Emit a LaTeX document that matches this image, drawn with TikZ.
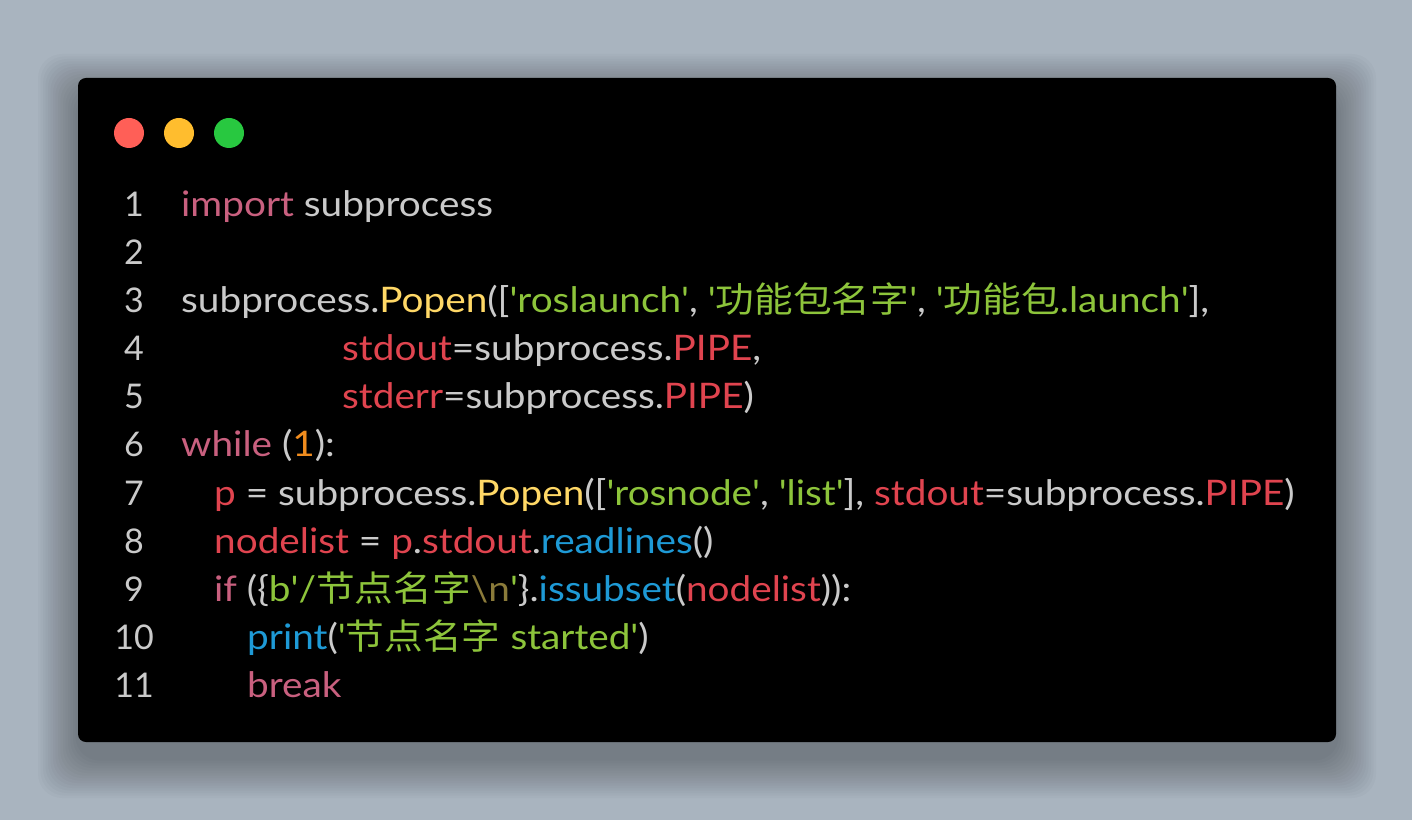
\documentclass[tikz,border=0pt]{standalone}
\usepackage{fontspec}
\usepackage{graphicx}
\newfontfamily\code{Lato}
\newfontfamily\cjk{Noto Sans CJK SC}
\definecolor{bg}{HTML}{A9B4BF}
\definecolor{pl}{HTML}{CACACA}
\definecolor{kwc}{HTML}{C9607F}
\definecolor{fnc}{HTML}{FFD866}
\definecolor{stc}{HTML}{8DC43B}
\definecolor{rdc}{HTML}{E0444F}
\definecolor{blc}{HTML}{1E9AD6}
\definecolor{orc}{HTML}{F08C1E}
\definecolor{esc}{HTML}{8B7B3A}
\definecolor{dred}{HTML}{FF5F57}
\definecolor{dyel}{HTML}{FFBD2E}
\definecolor{dgrn}{HTML}{28C840}
\newcommand{\kw}[1]{\textcolor{kwc}{#1}}
\newcommand{\fn}[1]{\textcolor{fnc}{#1}}
\newcommand{\st}[1]{\textcolor{stc}{#1}}
\newcommand{\rd}[1]{\textcolor{rdc}{#1}}
\newcommand{\bl}[1]{\textcolor{blc}{#1}}
\newcommand{\q}{\textquotesingle}
\newcommand{\wid}[1]{\scalebox{1.1}[1]{#1}}
\begin{document}
\begin{tikzpicture}[x=1pt,y=1pt,
  ln/.style={anchor=base,inner sep=0,text=pl,font=\code\fontsize{34}{34}\selectfont},
  cl/.style={anchor=base west,inner sep=0,text=pl,font=\code\fontsize{35.2}{35}\selectfont}]
\fill[bg] (0,0) rectangle (1412,820);
\useasboundingbox (0,0) rectangle (1412,820);
\foreach \i in {1,...,16}{
  \fill[black,opacity=0.02,rounded corners=24] (78-2.5*\i,78-2.5*\i-16) rectangle (1336+2.5*\i,742+2.5*\i-16);}
\fill[black,rounded corners=8] (78,78) rectangle (1336,742);
\fill[dred] (129,687) circle (15);
\fill[dyel] (179,687) circle (15);
\fill[dgrn] (229,687) circle (15);
\foreach \n in {1,...,11}{ \node[ln] (n\n) at (134,603-48*\n+48) {\n}; }
\node[cl] (l1) at (181,603) {\wid{\kw{import} subprocess}};
\node[cl] (l3) at (181,507) {\wid{subprocess.\fn{Popen}([\st{\q roslaunch\q}, \st{\q{\cjk 功能包名字}\q}, \st{\q{\cjk 功能包}.launch\q}],}};
\node[cl] (l4) at (342,459) {\wid{\rd{stdout}=subprocess.\rd{PIPE},}};
\node[cl] (l5) at (342,411) {\wid{\rd{stderr}=subprocess.\rd{PIPE})}};
\node[cl] (l6) at (181,363) {\wid{\kw{while} (\textcolor{orc}{1}):}};
\node[cl] (l7) at (214,315) {\wid{\rd{p} = subprocess.\fn{Popen}([\st{\q rosnode\q}, \st{\q list\q}], \rd{stdout}=subprocess.\rd{PIPE})}};
\node[cl] (l8) at (214,267) {\wid{\rd{nodelist} = \rd{p}.\rd{stdout}.\bl{readlines}()}};
\node[cl] (l9) at (214,219) {\wid{\kw{if} (\{\st{b\q/{\cjk 节点名字}}\textcolor{esc}{\textbackslash n}\st{\q}\}.\bl{issubset}(\rd{nodelist})):}};
\node[cl] (l10) at (247,171) {\wid{\bl{print}(\st{\q{\cjk 节点名字} started\q})}};
\node[cl] (l11) at (247,123) {\wid{\kw{break}}};
\end{tikzpicture}
\end{document}
